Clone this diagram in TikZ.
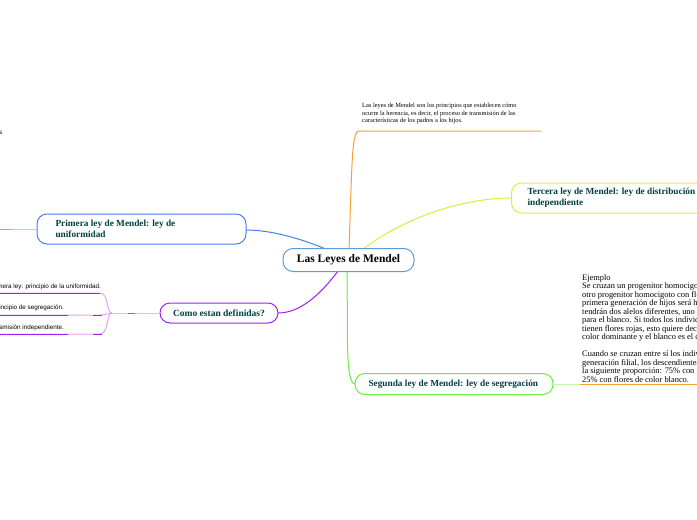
\documentclass[tikz,border=0pt]{standalone}
\usepackage{fontspec}
\setmainfont{Liberation Serif}
\setsansfont{Liberation Sans}
\begin{document}
\begin{tikzpicture}[x=1pt,y=-1pt,
 topic/.style={draw,rounded corners=10pt,line width=1pt,fill=white,inner sep=0pt},
 ttl/.style={font=\bfseries\fontsize{9.3}{10.5}\selectfont,text=teal!50!black,align=left,anchor=west},
 small/.style={font=\sffamily\fontsize{6.3}{7}\selectfont,anchor=east,inner sep=0pt},
 cn/.style={line width=1pt}]
\useasboundingbox (0,0) rectangle (697,520);
\clip (0,0) rectangle (697,520);
\definecolor{cblue}{HTML}{4A7CF0}
\definecolor{cpur}{HTML}{A020F0}
\definecolor{cyel}{HTML}{D8F03C}
\definecolor{cgrn}{HTML}{66EE44}
\definecolor{corg}{HTML}{F7A030}
\definecolor{ccen}{HTML}{5B9BD5}
% edges from center
\draw[cn,corg] (349,250) .. controls (352,160) and (352,135) .. (358,131) -- (541,131);
\draw[cn,cyel] (362,250) .. controls (400,220) and (460,198) .. (511,198);
\draw[cn,cblue] (328,250) .. controls (300,238) and (270,230) .. (246,230);
\draw[cn,cpur] (338,271) .. controls (320,295) and (300,313) .. (278,313);
\draw[cn,cgrn] (347,271) .. controls (348,330) and (345,384) .. (355,384);
% central
\node[topic,draw=ccen,minimum width=131pt,minimum height=23pt,font=\bfseries\fontsize{11.5}{13}\selectfont] (c) at (348.5,260) {Las Leyes de Mendel};
% primera
\draw[cn,cblue!40] (37,229) -- (12,229);
\draw[cn,corg] (12,229) -- (0,229);
\node[topic,draw=cblue,minimum width=209pt,minimum height=30pt] (p) at (141.5,229) {};
\node[ttl] at (52,229) {Primera ley de Mendel: ley de\\uniformidad};
% tercera
\node[topic,draw=cyel,minimum width=220pt,minimum height=30pt,anchor=west] (t) at (511,198) {};
\node[ttl] at (524,198) {Tercera ley de Mendel: ley de distribución\\independiente};
% segunda
\node[topic,draw=cgrn,minimum width=198pt,minimum height=21pt] (s) at (454,384) {};
\node[ttl] at (365,384) {Segunda ley de Mendel: ley de segregación};
\draw[cn,cgrn!40] (553,384) -- (580,384);
\draw[cn,corg] (580,384) -- (697,384);
% como
\node[topic,draw=cpur,minimum width=118pt,minimum height=20pt,font=\bfseries\fontsize{9.5}{11}\selectfont,text=teal!50!black] (m) at (219,313) {Como estan definidas?};
\draw[cn,cpur!30] (160,313) -- (112,313);
\draw[cn,cpur!80] (135,313) -- (128,313);
\draw[cn,cpur!40] (112,313) .. controls (106,313) and (109,293) .. (100,293) -- (0,293);
\draw[cn,cpur!40] (112,313) .. controls (106,313) and (109,334) .. (100,334) -- (0,334);
\draw[cn,cpur!40] (112,313) .. controls (108,313) and (106,315) .. (100,315) -- (0,315);
\draw[cn,cpur] (0,293) -- (100,293);
\draw[cn,cpur] (0,315) -- (68,315); \draw[cn,cpur] (93,315) -- (102,315);
\draw[cn,cpur] (0,334) -- (68,334); \draw[cn,cpur] (93,334) -- (102,334);
\node[small] at (101,287) {Primera ley: principio de la uniformidad.};
\node[small] at (64,307.5) {Segunda ley: principio de segregación.};
\node[small] at (64,328) {Tercera ley: principio de transmisión independiente.};
% texts
\node[anchor=north west,align=left,inner sep=0pt,font=\fontsize{6.4}{7.6}\selectfont] (d) at (362,103) {Las leyes de Mendel son los principios que establecen cómo\\ocurre la herencia, es decir, el proceso de transmisión de las\\características de los padres a los hijos.};
\node[anchor=north west,align=left,inner sep=0pt,font=\fontsize{8.4}{8.5}\selectfont] (e) at (582,274) {Ejemplo\\Se cruzan un progenitor homocigoto con flores rojas y\\otro progenitor homocigoto con flores blancas. La\\primera generación de hijos será heterocigota, es decir\\tendrán dos alelos diferentes, uno para el rojo y otro\\para el blanco. Si todos los individuos de la F1\\tienen flores rojas, esto quiere decir que el rojo es el\\color dominante y el blanco es el color recesivo.\\[8.5pt]Cuando se cruzan entre sí los individuos de la primera\\generación filial, los descendientes de la F2 aparecen en\\la siguiente proporción: 75\% con flores rojas y\\25\% con flores de color blanco.};
\node[small,anchor=west] (z) at (-1,133) {s};
\end{tikzpicture}
\end{document}
